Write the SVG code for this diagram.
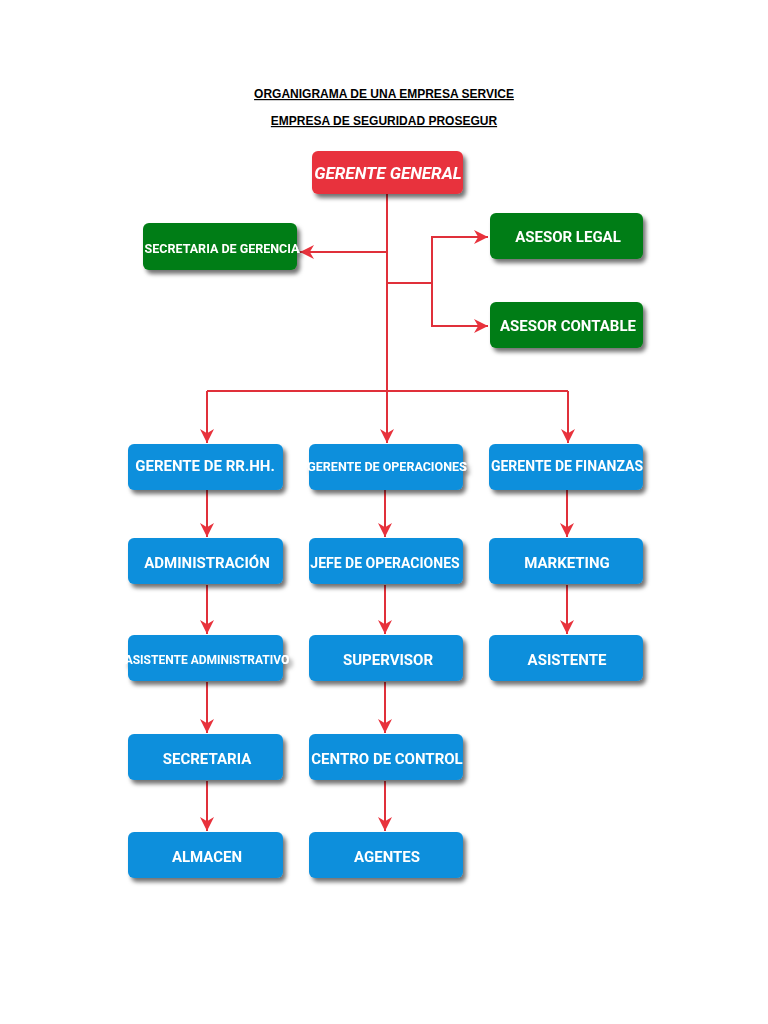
<svg xmlns="http://www.w3.org/2000/svg" width="768" height="1024" viewBox="0 0 768 1024">
<style>
.t{font-family:"Liberation Sans",Arial,sans-serif;font-weight:bold;font-size:12px;text-anchor:middle;text-decoration:underline;fill:#000}
.n{font-family:Roboto,"Liberation Sans",sans-serif;font-weight:bold;fill:#fff;text-anchor:middle;dominant-baseline:central}
.b{fill:#0a8fdc}.g{fill:#067d14}.r{fill:#e8323c}
.c{stroke:#e0303a;stroke-width:2;fill:none}
</style>
<defs>
<filter id="s" x="-10%" y="-20%" width="130%" height="160%"><feDropShadow dx="3" dy="4" stdDeviation="2" flood-color="#000" flood-opacity="0.55"/></filter>
<marker id="a" viewBox="0 0 10 10" refX="10" refY="5" markerWidth="7" markerHeight="7" markerUnits="strokeWidth" orient="auto"><path d="M0,0L10,5L0,10L3,5z" fill="#e8323c"/></marker>
</defs>
<rect width="768" height="1024" fill="#fff"/>
<text class="t" x="384" y="98">ORGANIGRAMA DE UNA EMPRESA SERVICE</text>
<text class="t" x="384" y="125">EMPRESA DE SEGURIDAD PROSEGUR</text>
<g id="connectors" class="c" marker-end="url(#a)">
<path d="M387,194V391" marker-end="none"/>
<path d="M387,252H300"/>
<path d="M387,283H432V237H488"/>
<path d="M432,283V326H488"/>
<path d="M207,391H568" marker-end="none"/>
<path d="M207,391V443"/><path d="M387,391V443"/><path d="M568,391V443"/>
<path d="M207,490V537"/><path d="M207,585V634"/><path d="M207,682V733"/><path d="M207,781V831"/>
<path d="M385,490V537"/><path d="M385,585V634"/><path d="M385,682V733"/><path d="M385,781V831"/>
<path d="M567,490V537"/><path d="M567,585V634"/>
</g>
<g filter="url(#s)">
<g id="gg"><rect class="r" x="312" y="151" width="151" height="43" rx="6"/><text class="n" x="388" y="173" font-size="17" font-style="italic">GERENTE GENERAL</text></g>
<g id="sg"><rect class="g" x="143" y="223" width="154" height="47" rx="6"/><text class="n" x="222" y="248" font-size="12.5">SECRETARIA DE GERENCIA</text></g>
<g id="al"><rect class="g" x="490" y="213" width="153" height="46" rx="6"/><text class="n" x="568" y="237" font-size="15">ASESOR LEGAL</text></g>
<g id="ac"><rect class="g" x="490" y="302" width="153" height="46" rx="6"/><text class="n" x="568" y="326" font-size="15">ASESOR CONTABLE</text></g>
<g id="grh"><rect class="b" x="128" y="444" width="155" height="46" rx="6"/><text class="n" x="205" y="466" font-size="15">GERENTE DE RR.HH.</text></g>
<g id="gop"><rect class="b" x="309" y="444" width="154" height="46" rx="6"/><text class="n" x="387" y="466" font-size="12.5">GERENTE DE OPERACIONES</text></g>
<g id="gfi"><rect class="b" x="489" y="444" width="154" height="46" rx="6"/><text class="n" x="567" y="466" font-size="14">GERENTE DE FINANZAS</text></g>
<g id="adm"><rect class="b" x="128" y="538" width="155" height="46" rx="6"/><text class="n" x="207" y="563" font-size="15">ADMINISTRACIÓN</text></g>
<g id="jop"><rect class="b" x="309" y="538" width="154" height="46" rx="6"/><text class="n" x="385" y="563" font-size="14">JEFE DE OPERACIONES</text></g>
<g id="mkt"><rect class="b" x="489" y="538" width="154" height="46" rx="6"/><text class="n" x="567" y="563" font-size="15">MARKETING</text></g>
<g id="asa"><rect class="b" x="128" y="635" width="155" height="46" rx="6"/><text class="n" x="207" y="660" font-size="12">ASISTENTE ADMINISTRATIVO</text></g>
<g id="sup"><rect class="b" x="309" y="635" width="154" height="46" rx="6"/><text class="n" x="388" y="660" font-size="15">SUPERVISOR</text></g>
<g id="asi"><rect class="b" x="489" y="635" width="154" height="46" rx="6"/><text class="n" x="567" y="660" font-size="15">ASISTENTE</text></g>
<g id="sec"><rect class="b" x="128" y="734" width="155" height="46" rx="6"/><text class="n" x="207" y="759" font-size="15">SECRETARIA</text></g>
<g id="cc"><rect class="b" x="309" y="734" width="154" height="46" rx="6"/><text class="n" x="387" y="759" font-size="15">CENTRO DE CONTROL</text></g>
<g id="alm"><rect class="b" x="128" y="832" width="155" height="46" rx="6"/><text class="n" x="207" y="857" font-size="15">ALMACEN</text></g>
<g id="age"><rect class="b" x="309" y="832" width="154" height="46" rx="6"/><text class="n" x="387" y="857" font-size="15">AGENTES</text></g>
</g>
</svg>
